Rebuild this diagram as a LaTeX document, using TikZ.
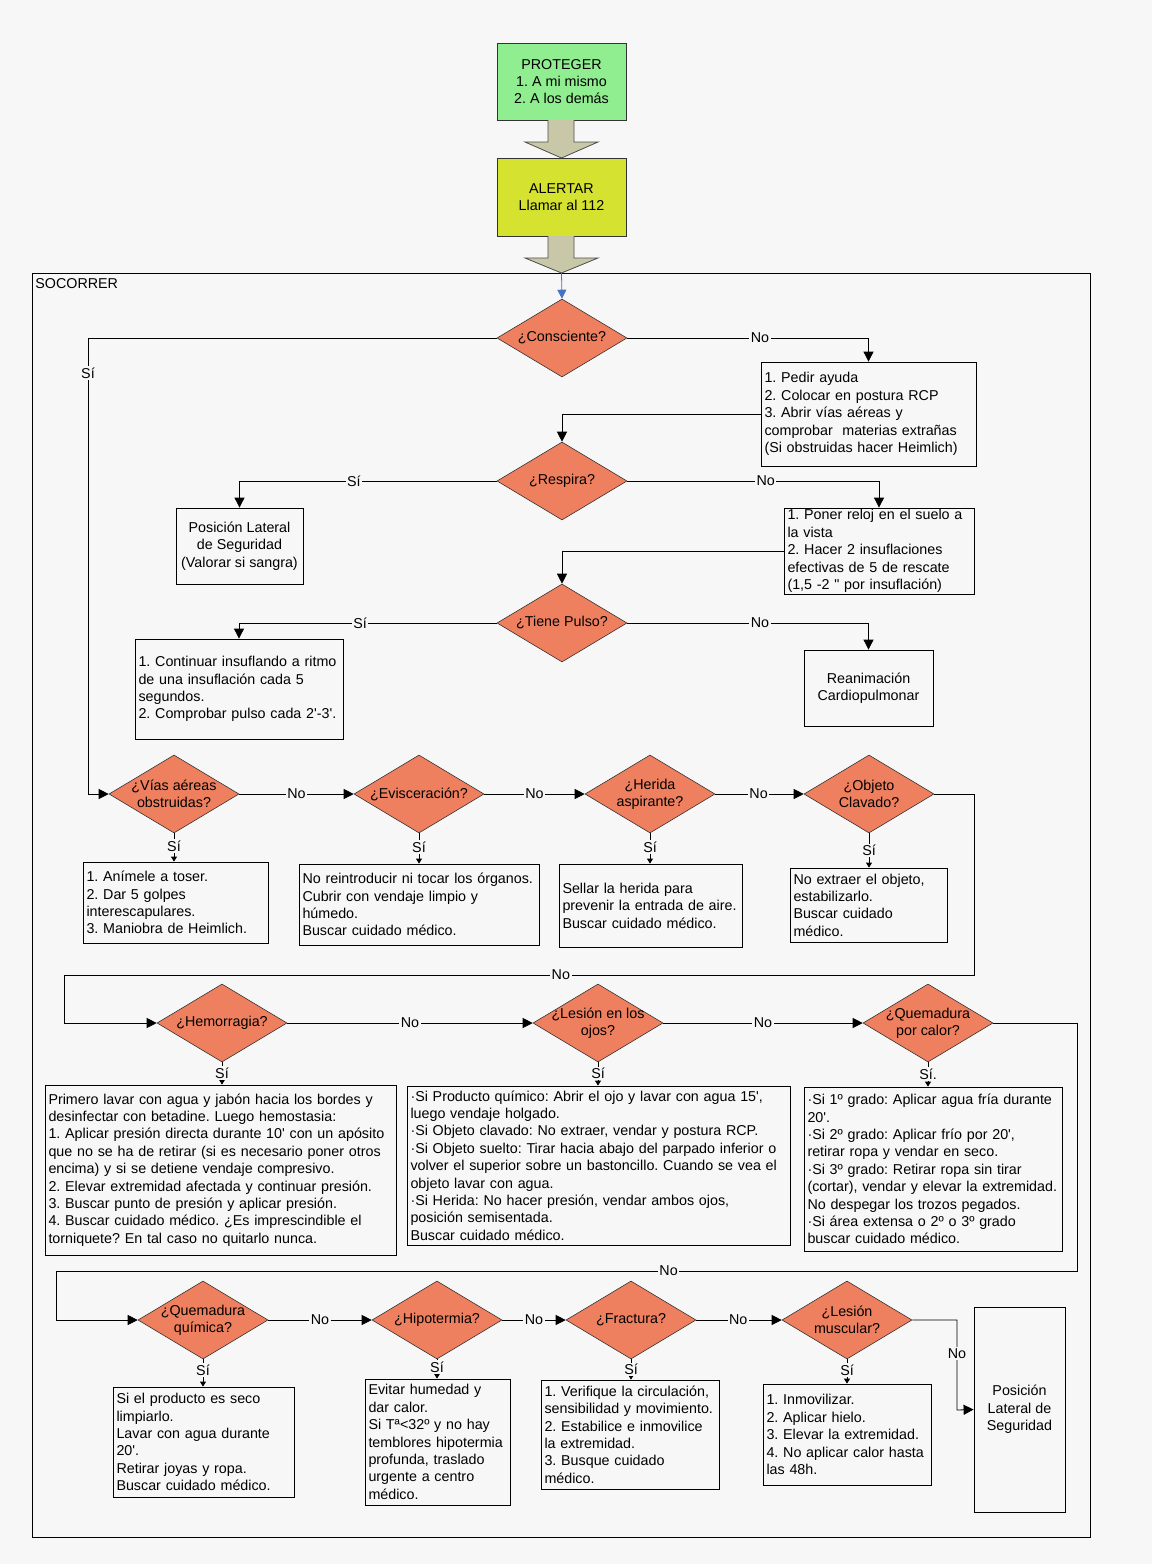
\documentclass[tikz,border=0pt]{standalone}
\usepackage{fontspec}
\setmainfont{Liberation Sans}[Ligatures=TeXOff]
\usetikzlibrary{shapes.geometric,arrows.meta,calc}
\definecolor{bg}{RGB}{247,247,247}
\definecolor{pgreen}{RGB}{144,238,144}
\definecolor{pyellow}{RGB}{213,226,48}
\definecolor{khaki}{RGB}{200,200,168}
\definecolor{dcol}{RGB}{239,128,95}
\definecolor{barrow}{RGB}{68,114,196}
\newcommand\tbox[6]{\pgfmathsetmacro\tw{#4-7}\node[box, text width=\tw pt, minimum width=#4pt, minimum height=#5pt] (#1) at (#2,#3) {#6};}
\newcommand\cbx[6]{\node[box, inner xsep=0pt, align=center, minimum width=#4pt, minimum height=#5pt] (#1) at (#2,#3) {#6};}
\newcommand\dmd[4]{\node[dia, label={[dtext]center:#4}] (#1) at (#2,#3) {};}
\begin{document}
\begin{tikzpicture}[x=1pt,y=-1pt, line width=0.8pt,
 every node/.style={font=\fontsize{14.3}{17.4}\selectfont\frenchspacing},
 box/.style={draw=black, rectangle, inner xsep=3.5pt, inner ysep=0pt, align=left},
 dia/.style={draw=black!80, diamond, fill=dcol, minimum width=130pt, minimum height=78pt, inner sep=0pt, line width=0.6pt},
 dtext/.style={align=center, inner sep=0pt},
 lbl/.style={fill=bg, inner sep=1.5pt},
 arr/.style={-{Triangle[length=10pt,width=10pt]}},
 sarr/.style={-{Triangle[length=5pt,width=6pt]}},
 bigarrow/.style={fill=khaki, draw=black!70, line width=0.8pt},
]
\fill[bg] (0,0) rectangle (1152,1564);
\useasboundingbox (0,0) rectangle (1152,1564);

% top boxes
\node[draw=black!80, fill=pgreen, align=center, minimum width=129pt, minimum height=77pt, inner sep=0pt] (prot) at (561.5,81.5) {PROTEGER\\1. A mi mismo\\2. A los demás};
\node[draw=black!80, fill=pyellow, align=center, minimum width=129pt, minimum height=78pt, inner sep=0pt] (alert) at (561.5,197) {ALERTAR\\Llamar al 112};
\draw[bigarrow] (548,120) -- (548,142) -- (525,142) -- (561.5,158) -- (598,142) -- (574,142) -- (574,120);
\draw[bigarrow] (548,236) -- (548,258) -- (525,258) -- (561.5,273) -- (598,258) -- (574,258) -- (574,236);

% frame
\draw[black] (32,273) rectangle (1090,1537);
\node[anchor=west, inner sep=0pt] (soc) at (35,284) {SOCORRER};

% diamonds
\dmd{consc}{562}{338}{¿Consciente?}
\dmd{resp}{562}{481}{¿Respira?}
\dmd{pulso}{562}{623}{¿Tiene Pulso?}
\dmd{vias}{174}{794}{¿Vías aéreas\\obstruidas?}
\dmd{evis}{419}{794}{¿Evisceración?}
\dmd{herida}{650}{794}{¿Herida\\aspirante?}
\dmd{objeto}{869}{794}{¿Objeto\\Clavado?}
\dmd{hem}{222}{1023}{¿Hemorragia?}
\dmd{ojos}{598}{1023}{¿Lesión en los\\ojos?}
\dmd{qcal}{928}{1023}{¿Quemadura\\por calor?}
\dmd{qq}{203}{1320}{¿Quemadura\\química?}
\dmd{hipo}{437}{1320}{¿Hipotermia?}
\dmd{frac}{631}{1320}{¿Fractura?}
\dmd{lmus}{847}{1320}{¿Lesión\\muscular?}

\draw[barrow, -{Triangle[length=9pt,width=9pt]}, line width=0.8pt] (561.5,273) -- (consc.north);

% boxes
\tbox{b1}{868.5}{414}{215}{104}{1. Pedir ayuda\\2. Colocar en postura RCP\\3. Abrir vías aéreas y\\comprobar \ materias extrañas\\(Si obstruidas hacer Heimlich)}
\cbx{pls}{239.5}{546}{127}{76}{Posición Lateral\\de Seguridad\\(Valorar si sangra)}
\tbox{b2}{879}{551}{190}{86}{1. Poner reloj en el suelo a\\la vista\\2. Hacer 2 insuflaciones\\efectivas de 5 de rescate\\(1,5 -2 " por insuflación)}
\tbox{b3}{239}{689}{208}{100}{1. Continuar insuflando a ritmo\\de una insuflación cada 5\\segundos.\\2. Comprobar pulso cada 2'-3'.}
\cbx{rcp}{868.5}{688}{129}{76}{Reanimación\\Cardiopulmonar}

\tbox{bv}{175.5}{902.5}{185}{81}{1. Anímele a toser.\\2. Dar 5 golpes\\interescapulares.\\3. Maniobra de Heimlich.}
\tbox{be}{419}{904.5}{240}{81}{No reintroducir ni tocar los órganos.\\Cubrir con vendaje limpio y\\húmedo.\\Buscar cuidado médico.}
\tbox{bh}{650.5}{905.5}{183}{83}{Sellar la herida para\\prevenir la entrada de aire.\\Buscar cuidado médico.}
\tbox{bo}{868.5}{905}{157}{74}{No extraer el objeto,\\estabilizarlo.\\Buscar cuidado\\médico.}

\tbox{bhem}{220.5}{1170}{351}{170}{Primero lavar con agua y jabón hacia los bordes y\\desinfectar con betadine. Luego hemostasia:\\1. Aplicar presión directa durante 10' con un apósito\\que no se ha de retirar (si es necesario poner otros\\encima) y si se detiene vendaje compresivo.\\2. Elevar extremidad afectada y continuar presión.\\3. Buscar punto de presión y aplicar presión.\\4. Buscar cuidado médico. ¿Es imprescindible el\\torniquete? En tal caso no quitarlo nunca.}
\tbox{bojos}{598.5}{1165.5}{383}{159}{·Si Producto químico: Abrir el ojo y lavar con agua 15',\\luego vendaje holgado.\\·Si Objeto clavado: No extraer, vendar y postura RCP.\\·Si Objeto suelto: Tirar hacia abajo del parpado inferior o\\volver el superior sobre un bastoncillo. Cuando se vea el\\objeto lavar con agua.\\·Si Herida: No hacer presión, vendar ambos ojos,\\posición semisentada.\\Buscar cuidado médico.}
\tbox{bqc}{933}{1169}{258}{164}{·Si 1º grado: Aplicar agua fría durante\\20'.\\·Si 2º grado: Aplicar frío por 20',\\retirar ropa y vendar en seco.\\·Si 3º grado: Retirar ropa sin tirar\\(cortar), vendar y elevar la extremidad.\\No despegar los trozos pegados.\\·Si área extensa o 2º o 3º grado\\buscar cuidado médico.}

\tbox{bqq}{203.5}{1442}{181}{110}{Si el producto es seco\\limpiarlo.\\Lavar con agua durante\\20'.\\Retirar joyas y ropa.\\Buscar cuidado médico.}
\tbox{bhipo}{437.5}{1442}{145}{126}{Evitar humedad y\\dar calor.\\Si Tª<32º y no hay\\temblores hipotermia\\profunda, traslado\\urgente a centro\\médico.}
\tbox{bfrac}{630}{1434.5}{178}{109}{1. Verifique la circulación,\\sensibilidad y movimiento.\\2. Estabilice e inmovilice\\la extremidad.\\3. Busque cuidado\\médico.}
\tbox{blm}{847}{1434.5}{168}{101}{1. Inmovilizar.\\2. Aplicar hielo.\\3. Elevar la extremidad.\\4. No aplicar calor hasta\\las 48h.}
\cbx{pls2}{1019.5}{1409.5}{91}{205}{Posición\\Lateral de\\Seguridad}

% connectors top part
\draw[arr] (consc.east) -- node[lbl,pos=0.55]{No} (consc.east -| b1.north) -- (b1.north);
\draw[arr] (consc.west) -- (88,338) -- node[lbl,pos=0.077]{Sí} (88,794) -- (vias.west);
\draw[arr] (b1.west) -- (b1.west -| resp.north) -- (resp.north);
\draw[arr] (resp.west) -- node[lbl,pos=0.555]{Sí} (resp.west -| pls.north) -- (pls.north);
\draw[arr] (resp.east) -- node[lbl,pos=0.55]{No} (resp.east -| b2.north) -- (b2.north);
\draw[arr] (b2.west) -- (b2.west -| pulso.north) -- (pulso.north);
\draw[arr] (pulso.west) -- node[lbl,pos=0.53]{Sí} (pulso.west -| b3.north) -- (b3.north);
\draw[arr] (pulso.east) -- node[lbl,pos=0.55]{No} (pulso.east -| rcp.north) -- (rcp.north);

% row 1
\draw[arr] (vias.east) -- node[lbl]{No} (evis.west);
\draw[arr] (evis.east) -- node[lbl]{No} (herida.west);
\draw[arr] (herida.east) -- node[lbl,pos=0.49]{No} (objeto.west);
\draw[sarr] (vias.south) -- node[lbl,pos=0.45]{Sí} (vias.south |- bv.north);
\draw[sarr] (evis.south) -- node[lbl,pos=0.45]{Sí} (evis.south |- be.north);
\draw[sarr] (herida.south) -- node[lbl,pos=0.45]{Sí} (herida.south |- bh.north);
\draw[sarr] (objeto.south) -- node[lbl,pos=0.5]{Sí} (objeto.south |- bo.north);
\draw[arr] (objeto.east) -- (974,794) -- (974,975) -- node[lbl,pos=0.454]{No} (64,975) -- (64,1023) -- (hem.west);

% row 2
\draw[arr] (hem.east) -- node[lbl]{No} (ojos.west);
\draw[arr] (ojos.east) -- node[lbl]{No} (qcal.west);
\draw[sarr] (hem.south) -- node[lbl,pos=0.48]{Sí} (hem.south |- bhem.north);
\draw[sarr] (ojos.south) -- node[lbl,pos=0.48]{Sí} (ojos.south |- bojos.north);
\draw[sarr] (qcal.south) -- node[lbl,pos=0.48]{Sí.} (qcal.south |- bqc.north);
\draw[arr] (qcal.east) -- (1077,1023) -- (1077,1271) -- node[lbl,pos=0.40]{No} (56,1271) -- (56,1320) -- (qq.west);

% row 3
\draw[arr] (qq.east) -- node[lbl]{No} (hipo.west);
\draw[arr] (hipo.east) -- node[lbl]{No} (frac.west);
\draw[arr] (frac.east) -- node[lbl,pos=0.49]{No} (lmus.west);
\draw[sarr] (qq.south) -- node[lbl,pos=0.39]{Sí} (qq.south |- bqq.north);
\draw[sarr] (hipo.south) -- node[lbl,pos=0.4]{Sí} (hipo.south |- bhipo.north);
\draw[sarr] (frac.south) -- node[lbl,pos=0.5]{Sí} (frac.south |- bfrac.north);
\draw[sarr] (lmus.south) -- node[lbl,pos=0.44]{Sí} (lmus.south |- blm.north);
\draw[arr] (lmus.east) -- (957,1320) -- node[lbl,pos=0.37]{No} (957,1410) -- (pls2.west);
\end{tikzpicture}
\end{document}
